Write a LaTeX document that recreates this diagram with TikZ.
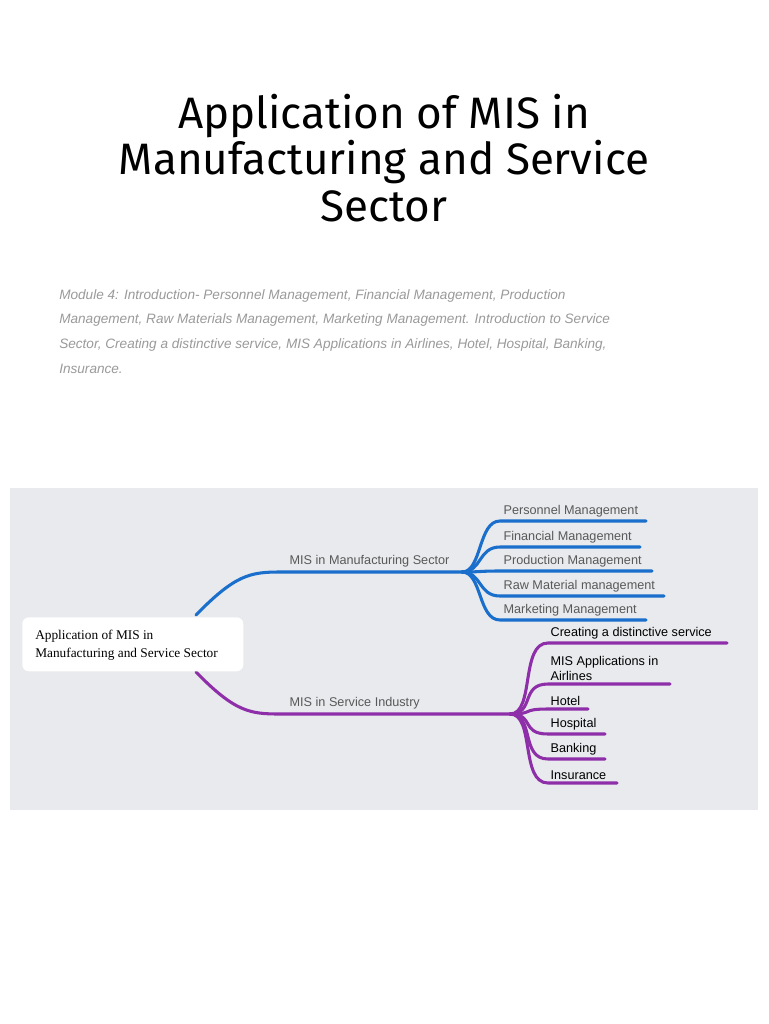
\documentclass[tikz,border=0pt]{standalone}
\usepackage{fontspec}
\setmainfont{Liberation Serif}
\setsansfont{Liberation Sans}
\newfontfamily\titlefont{Fira Sans}
\usetikzlibrary{positioning}
\definecolor{mapbg}{HTML}{E8EAED}
\definecolor{mfgblue}{HTML}{1A6FCC}
\definecolor{srvpurple}{HTML}{8E2EA8}
\definecolor{notegrey}{HTML}{9A9A9A}
\tikzset{
  branch/.style={line width=2.3pt, line cap=round},
  leaf/.style={font=\sffamily\fontsize{9.5}{11}\selectfont, anchor=south west, inner sep=1pt, align=left},
}
\begin{document}
\begin{tikzpicture}[x=0.75pt, y=-0.75pt]
\useasboundingbox [fill=white] (0,0) rectangle (768,1024);
	\node (title) [font=\titlefont\fontsize{33}{35}\selectfont, align=center] at (384,158) {Application of MIS in\\Manufacturing and Service\\Sector};
	\node (note) [font=\sffamily\itshape\fontsize{10.2}{18.6}\selectfont, color=notegrey, anchor=north west, align=left, inner sep=0pt] at (59,289)
	  {Module 4: Introduction- Personnel Management, Financial Management, Production\\Management, Raw Materials Management, Marketing Management. Introduction to Service\\Sector, Creating a distinctive service, MIS Applications in Airlines, Hotel, Hospital, Banking,\\Insurance.};
	\fill [color=mapbg] (10,488) rectangle (758,810);

% main branches
\coordinate (mfg) at (462,572);
\coordinate (srv) at (510,714);
\draw [branch, mfgblue] (196,615) .. controls (235,575) and (250,572) .. (280,572) -- (mfg);
\draw [branch, srvpurple] (196,672) .. controls (235,712) and (250,714) .. (280,714) -- (srv);
\node [leaf, color=black!65] at (288,569) {MIS in Manufacturing Sector};
\node [leaf, color=black!65] at (288,711) {MIS in Service Industry};

% manufacturing leaves
\foreach \y/\e/\t in {521/646/Personnel Management, 547/640/Financial Management, 571/652/Production Management, 596/664/Raw Material management, 620/646/Marketing Management}{
  \draw [branch, mfgblue] (mfg) .. controls (482,572) and (478,\y) .. (500,\y) -- (\e,\y);
  \node [leaf, color=black!65] at (502,\y-2) {\t};
}

% service leaves
\foreach \y/\e/\t in {643/727/Creating a distinctive service, 684/670/{MIS Applications in\\Airlines}, 709/588/Hotel, 734/605/Hospital, 759/605/Banking, 783/617/Insurance}{
  \draw [branch, srvpurple] (srv) .. controls (535,714) and (520,\y) .. (548,\y) -- (\e,\y);
  \node [leaf] at (549,\y-2) {\t};
}

	\node (root) [fill=white, rounded corners=5pt, minimum width=221*0.75pt, minimum height=54*0.75pt, anchor=north west] at (22,617) {};
	\node [font=\fontsize{10}{13.5}\selectfont, align=left, anchor=west, inner sep=0pt] at (35,645) {Application of MIS in\\Manufacturing and Service Sector};
	\end{tikzpicture}
\end{document}
